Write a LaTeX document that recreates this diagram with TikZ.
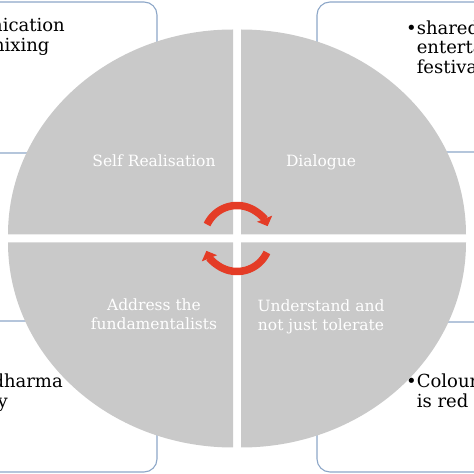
\documentclass[tikz,border=0pt]{standalone}
\usepackage{fontspec}
\setmainfont{DejaVu Serif}
\usetikzlibrary{arrows.meta}
\definecolor{wedgegray}{RGB}{201,201,201}
\definecolor{boxblue}{RGB}{141,167,200}
\definecolor{cyclered}{RGB}{228,60,38}
\newcommand{\bulletpar}[1]{•\begin{tabular}[t]{@{}l@{}}#1\end{tabular}}
\newcommand{\wedgepar}[1]{\begin{tabular}[t]{@{}c@{}}#1\end{tabular}}

\begin{document}
\begin{tikzpicture}[x=1pt,y=1pt,
  box/.style={draw=boxblue,line width=1.1pt,fill=white,rounded corners=13pt},
  boxtext/.style={inner sep=0pt,font=\fontsize{18}{18.5}\selectfont},
  wedgetext/.style={inner sep=0pt,text=white,font=\fontsize{15.5}{19}\selectfont},
  cyclearrow/.style={draw=cyclered,line width=7.5pt,-{Triangle[length=8pt,width=16pt]}}]
\useasboundingbox (0,0) rectangle (474,474);
\clip (0,0) rectangle (474,474);
% boxes behind the circle
\draw[box] (-20,321) rectangle (157,472);
\draw[box] (317,322) rectangle (494,472);
\draw[box] (-20,2) rectangle (157,153);
\draw[box] (317,2) rectangle (494,152);
\node[boxtext,anchor=base east] (commtext) at (65,442) {\bulletpar{Communication\\people mixing}};
\node[boxtext,anchor=base west] (sharedtext) at (406,439) {\bulletpar{shared\\entertainment,\\festivals}};
\node[boxtext,anchor=base east] (dharmatext) at (63,86) {\bulletpar{Sarva dharma\\equality}};
\node[boxtext,anchor=base west] (colourtext) at (406,86) {\bulletpar{Colour of blood\\is red for all}};
% four quarters
\foreach \sx/\sy/\sa/\ea in {-1/1/180/90, 1/1/0/90, -1/-1/180/270, 1/-1/0/-90}{
  \fill[wedgegray] ({237+4*\sx},{235.5+4*\sy}) -- ++({225*\sx},0)
    arc[start angle=\sa,end angle=\ea,x radius=225,y radius=205] -- cycle;
}
\node[wedgetext,anchor=base] (selfreal) at (154,307) {\wedgepar{Self Realisation}};
\node[wedgetext,anchor=base] (dialogue) at (321,307) {\wedgepar{Dialogue}};
\node[wedgetext,anchor=base] (address) at (154,163) {\wedgepar{Address the\\fundamentalists}};
\node[wedgetext,anchor=base] (understand) at (321,162) {\wedgepar{Understand and\\not just tolerate}};
% cycle arrows
\draw[cyclearrow] ([shift={(155:33)}]237,235.5) arc[start angle=155,end angle=22,radius=33];
\draw[cyclearrow] ([shift={(-25:33)}]237,235.5) arc[start angle=-25,end angle=-158,radius=33];
\end{tikzpicture}
\end{document}
